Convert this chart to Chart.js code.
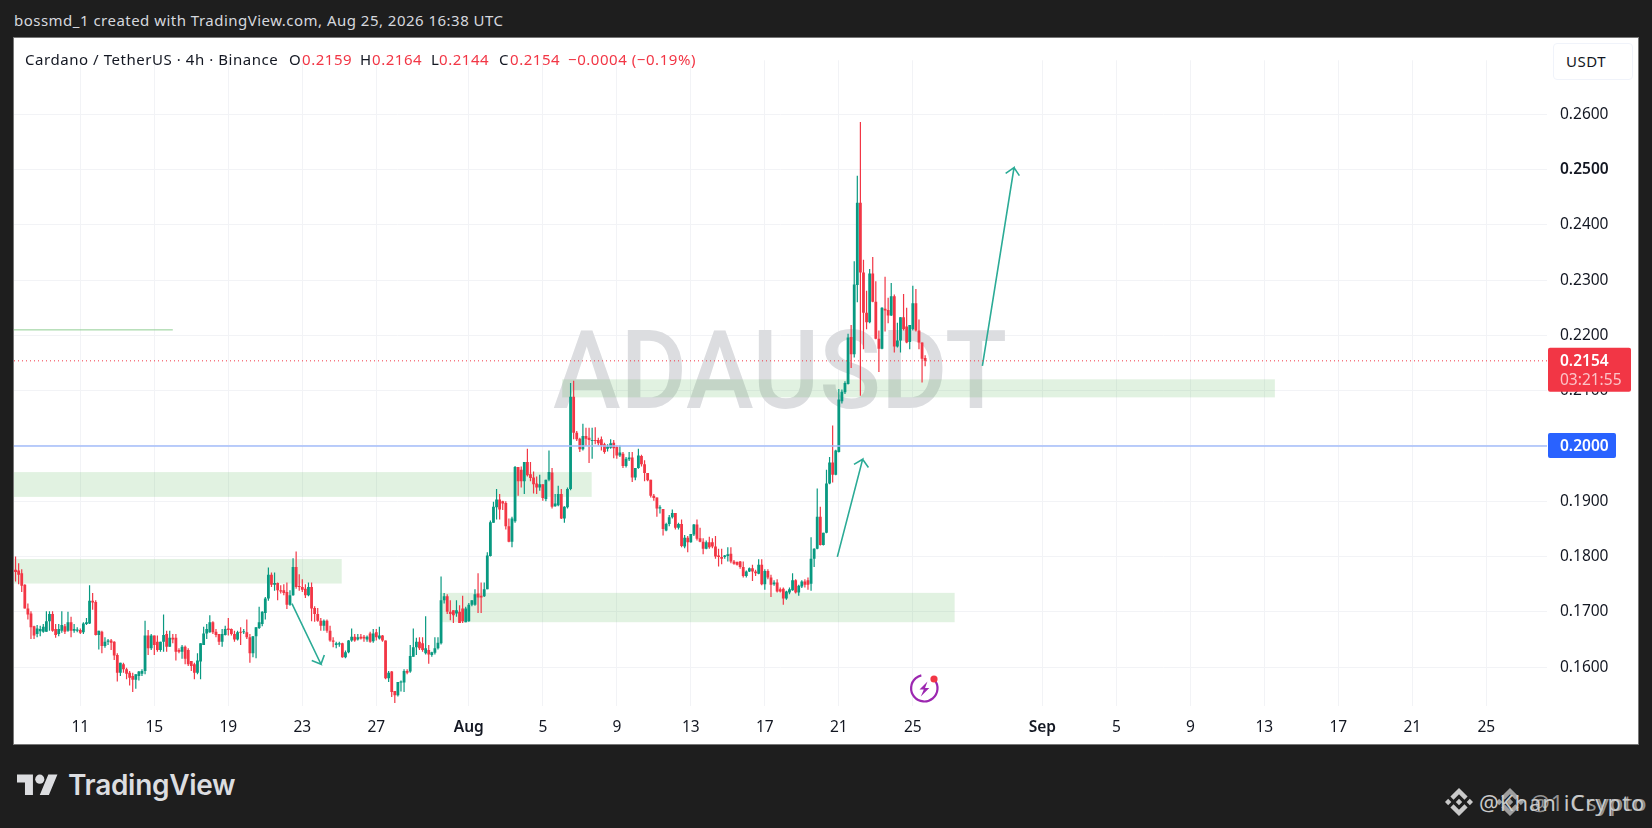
<!DOCTYPE html>
<html>
<head>
<meta charset="utf-8">
<title>ADAUSDT</title>
<script src="https://cdn.jsdelivr.net/npm/chart.js@4/dist/chart.umd.min.js"></script>
<style>
  html, body { margin: 0; height: 100%; background: #1e1e1e; overflow: hidden; }
  body { position: relative; width: 1652px; height: 828px; font-family: "Noto Sans", sans-serif; }
  .abs { position: absolute; white-space: nowrap; }
  #panel { position: absolute; left: 14px; top: 38px; width: 1624px; height: 706px; background: #fff; box-shadow: 0 0 0 1px #777; }
  #panel canvas { display: block; }
  #created { left: 14px; top: 9px; font-size: 15px; line-height: 22px; color: #d6d8de; letter-spacing: .48px; }
  .lg { top: 48px; font-size: 15px; line-height: 22px; color: #131722; letter-spacing: .55px; }
  .up { color: #f23645; }
  #unit { left: 1553px; top: 43px; width: 66px; height: 35px; line-height: 35px; padding-left: 12px; font-size: 15px; letter-spacing: .5px;
          color: #131722; background: #fff; border: 1px solid #f0f3fa; border-radius: 4px; }
  #brand { left: 68px; top: 765px; font-family: Inter, sans-serif; font-weight: 600; font-size: 28px; line-height: 40px; color: #dcdde0; letter-spacing: -0.3px; }
  .wm { top: 788px; font-size: 22px; line-height: 28px; }
</style>
</head>
<body>
<div id="created" class="abs">bossmd_1 created with TradingView.com, Aug 25, 2026 16:38 UTC</div>
<div id="panel"><canvas id="adaChart" width="1624" height="706"></canvas></div>

<div class="abs lg" style="left:25px">Cardano / TetherUS · 4h · Binance</div>
<div class="abs lg" style="left:289px">O</div><div class="abs lg up" style="left:302px">0.2159</div>
<div class="abs lg" style="left:360px">H</div><div class="abs lg up" style="left:372px">0.2164</div>
<div class="abs lg" style="left:431px">L</div><div class="abs lg up" style="left:439px">0.2144</div>
<div class="abs lg" style="left:499px">C</div><div class="abs lg up" style="left:510px">0.2154</div>
<div class="abs lg up" style="left:568px">−0.0004 (−0.19%)</div>
<div id="unit" class="abs">USDT</div>

<svg class="abs" style="left:908px;top:672px" width="34" height="34" viewBox="0 0 34 34">
  <circle cx="16.3" cy="16.3" r="13.2" fill="none" stroke="#9c27b0" stroke-width="2.2" stroke-dasharray="68 15" transform="rotate(-40 16.3 16.3)"/>
  <path d="M19.5 9.5 11.5 17.5h4.3l-3 7 8.5-8.5h-4.3z" fill="#9c27b0"/>
  <circle cx="26" cy="7" r="3.6" fill="#f23645"/>
</svg>

<svg class="abs" style="left:17px;top:770px" width="41" height="32" viewBox="0 0 36 28" fill="#dcdde0">
  <path d="M14 22H7V11H0V4h14v18zM28 22h-8l7.5-18h8L28 22z"/><circle cx="20" cy="8" r="4"/>
</svg>
<div id="brand" class="abs">TradingView</div>

<svg class="abs" style="left:1445px;top:788px" width="28" height="28" viewBox="0 0 126.61 126.61" fill="#c9c9c9">
  <path d="m38.73 53.2 24.59-24.58 24.6 24.6 14.3-14.31L63.32 0 24.43 38.9z"/><path d="m0 63.31 14.3-14.31 14.31 14.31-14.31 14.3z"/>
  <path d="m38.73 73.41 24.59 24.59 24.6-24.6 14.31 14.29-38.9 38.91-38.91-38.88z"/><path d="m98 63.31 14.3-14.31 14.31 14.31-14.31 14.3z"/>
  <path d="m77.83 63.3-14.51-14.52-10.73 10.73-1.24 1.23-2.54 2.54 14.51 14.5 14.51-14.47z"/>
</svg>
<svg class="abs" style="left:1496px;top:788px;opacity:.75" width="28" height="28" viewBox="0 0 126.61 126.61" fill="#c9c9c9">
  <path d="m38.73 53.2 24.59-24.58 24.6 24.6 14.3-14.31L63.32 0 24.43 38.9z"/><path d="m0 63.31 14.3-14.31 14.31 14.31-14.31 14.3z"/>
  <path d="m38.73 73.41 24.59 24.59 24.6-24.6 14.31 14.29-38.9 38.91-38.91-38.88z"/><path d="m98 63.31 14.3-14.31 14.31 14.31-14.31 14.3z"/>
  <path d="m77.83 63.3-14.51-14.52-10.73 10.73-1.24 1.23-2.54 2.54 14.51 14.5 14.51-14.47z"/>
</svg>
<div class="abs wm" style="left:1479px;color:#c9c9c9;letter-spacing:1px">@Khan iCrypto</div>
<div class="abs wm" style="left:1530px;color:rgba(201,201,201,.7);letter-spacing:1px">@1 Csypto</div>

<script>
// 4h candles, first one sits on Jul 7 12:00. days count from Jul 0 so Aug 1 = 32, Sep 1 = 63
const firstDay = 7.5
const candleStep = 4 / 24

const opens = [
  .1776,.1775,.1770,.1749,.1706,.1697,.1674,.1660,.1665,.1664,
  .1664,.1683,.1696,.1669,.1660,.1666,.1674,.1666,.1681,.1666,
  .1666,.1667,.1663,.1678,.1679,.1720,.1718,.1658,.1664,.1638,
  .1646,.1648,.1646,.1622,.1590,.1605,.1596,.1590,.1584,.1577,
  .1584,.1588,.1593,.1657,.1634,.1657,.1646,.1631,.1646,.1660,
  .1637,.1653,.1653,.1631,.1628,.1637,.1631,.1611,.1605,.1590,
  .1610,.1640,.1661,.1663,.1681,.1664,.1660,.1646,.1658,.1670,
  .1669,.1660,.1650,.1664,.1663,.1663,.1654,.1625,.1656,.1671,
  .1678,.1698,.1724,.1767,.1749,.1752,.1739,.1739,.1736,.1713,
  .1730,.1781,.1746,.1745,.1742,.1730,.1745,.1707,.1696,.1684,
  .1675,.1684,.1666,.1648,.1640,.1641,.1643,.1618,.1627,.1648,
  .1655,.1650,.1655,.1655,.1650,.1661,.1647,.1663,.1652,.1657,
  .1648,.1580,.1592,.1557,.1549,.1572,.1572,.1593,.1592,.1619,
  .1636,.1646,.1643,.1625,.1631,.1622,.1626,.1634,.1643,.1721,
  .1728,.1700,.1703,.1697,.1700,.1706,.1681,.1683,.1713,.1713,
  .1733,.1729,.1728,.1741,.1801,.1861,.1889,.1903,.1900,.1897,
  .1855,.1827,.1864,.1962,.1957,.1936,.1971,.1949,.1943,.1932,
  .1925,.1931,.1904,.1939,.1952,.1891,.1893,.1913,.1869,.1889,
  .1922,.2089,.2024,.2013,.1994,.2018,.2015,.2009,.2011,.2011,
  .2012,.2003,.1995,.1997,.2006,.1998,.1983,.1986,.1964,.1976,
  .1979,.1943,.1960,.1982,.1967,.1951,.1939,.1910,.1907,.1887,
  .1886,.1847,.1859,.1871,.1879,.1852,.1859,.1818,.1834,.1826,
  .1840,.1858,.1833,.1827,.1814,.1826,.1826,.1818,.1802,.1799,
  .1799,.1801,.1805,.1791,.1790,.1791,.1781,.1765,.1773,.1779,
  .1773,.1769,.1785,.1750,.1774,.1762,.1750,.1753,.1741,.1742,
  .1724,.1735,.1739,.1757,.1735,.1746,.1755,.1757,.1751,.1796,
  .1814,.1872,.1821,.1843,.1932,.1970,.1948,.1989,.2081,.2097,
  .2112,.2197,.2166,.2291,.2440,.2314,.2241,.2224,.2312,.2261,
  .2194,.2176,.2248,.2246,.2236,.2271,.2180,.2191,.2233,.2216,
  .2188,.2211,.2258,.2209,.2187,.2159
]
const closes = [
  .1772,.1767,.1747,.1706,.1695,.1672,.1657,.1670,.1669,.1673,
  .1683,.1696,.1666,.1658,.1669,.1676,.1664,.1681,.1666,.1669,
  .1668,.1662,.1679,.1681,.1720,.1717,.1658,.1666,.1638,.1646,
  .1648,.1644,.1621,.1590,.1608,.1596,.1588,.1581,.1577,.1587,
  .1592,.1593,.1657,.1634,.1657,.1640,.1631,.1646,.1658,.1637,
  .1653,.1650,.1628,.1628,.1637,.1615,.1605,.1602,.1590,.1612,
  .1643,.1661,.1669,.1681,.1663,.1658,.1646,.1660,.1669,.1667,
  .1660,.1650,.1663,.1662,.1665,.1654,.1625,.1656,.1672,.1681,
  .1700,.1724,.1767,.1749,.1752,.1739,.1737,.1734,.1713,.1730,
  .1781,.1745,.1745,.1740,.1730,.1745,.1706,.1696,.1684,.1675,
  .1684,.1666,.1648,.1646,.1643,.1643,.1618,.1627,.1648,.1655,
  .1648,.1654,.1652,.1652,.1655,.1646,.1661,.1654,.1657,.1648,
  .1580,.1590,.1555,.1549,.1573,.1574,.1593,.1590,.1620,.1636,
  .1646,.1634,.1631,.1634,.1623,.1627,.1634,.1644,.1721,.1728,
  .1700,.1696,.1694,.1703,.1680,.1683,.1706,.1713,.1721,.1732,
  .1726,.1726,.1741,.1802,.1862,.1890,.1903,.1885,.1896,.1855,
  .1827,.1869,.1962,.1936,.1936,.1971,.1947,.1942,.1931,.1925,
  .1931,.1906,.1939,.1953,.1890,.1896,.1913,.1869,.1890,.1922,
  .2089,.2024,.2012,.1994,.2018,.2013,.2011,.2011,.2009,.2005,
  .2001,.1989,.1999,.2005,.1996,.1983,.1988,.1964,.1977,.1979,
  .1943,.1960,.1983,.1967,.1951,.1938,.1910,.1906,.1887,.1889,
  .1850,.1859,.1871,.1879,.1852,.1859,.1819,.1834,.1826,.1841,
  .1858,.1832,.1827,.1814,.1826,.1817,.1818,.1800,.1799,.1796,
  .1802,.1804,.1791,.1787,.1785,.1781,.1765,.1773,.1779,.1773,
  .1770,.1785,.1750,.1774,.1762,.1749,.1753,.1737,.1737,.1724,
  .1737,.1741,.1757,.1735,.1747,.1755,.1749,.1749,.1796,.1814,
  .1872,.1821,.1843,.1932,.1970,.1948,.1992,.2084,.2098,.2114,
  .2196,.2166,.2292,.2440,.2314,.2241,.2224,.2312,.2261,.2194,
  .2176,.2250,.2245,.2236,.2271,.2180,.2191,.2233,.2211,.2187,
  .2219,.2258,.2209,.2187,.2158,.2154
]
const highs = [
  .1800,.1788,.1777,.1750,.1715,.1701,.1675,.1676,.1675,.1678,
  .1701,.1701,.1701,.1678,.1678,.1701,.1678,.1700,.1691,.1678,
  .1672,.1670,.1681,.1689,.1748,.1734,.1721,.1666,.1666,.1654,
  .1651,.1651,.1647,.1625,.1608,.1608,.1599,.1593,.1590,.1587,
  .1593,.1596,.1684,.1667,.1660,.1657,.1657,.1646,.1695,.1666,
  .1666,.1660,.1660,.1634,.1640,.1639,.1634,.1611,.1608,.1625,
  .1643,.1673,.1678,.1694,.1683,.1669,.1660,.1669,.1675,.1689,
  .1670,.1666,.1666,.1672,.1669,.1686,.1660,.1656,.1672,.1709,
  .1701,.1727,.1780,.1771,.1771,.1753,.1748,.1750,.1753,.1739,
  .1797,.1809,.1768,.1759,.1750,.1753,.1753,.1710,.1707,.1689,
  .1686,.1686,.1675,.1654,.1646,.1646,.1644,.1630,.1649,.1670,
  .1660,.1660,.1660,.1658,.1657,.1664,.1669,.1669,.1673,.1658,
  .1648,.1593,.1593,.1557,.1573,.1576,.1596,.1596,.1640,.1670,
  .1653,.1654,.1654,.1692,.1640,.1628,.1654,.1654,.1764,.1734,
  .1732,.1721,.1703,.1721,.1712,.1729,.1709,.1716,.1721,.1741,
  .1770,.1753,.1753,.1808,.1865,.1899,.1922,.1913,.1901,.1900,
  .1869,.1872,.1964,.1962,.1963,.1971,.1995,.1971,.1954,.1945,
  .1948,.1931,.1939,.1992,.1960,.1913,.1928,.1922,.1891,.1925,
  .2114,.2118,.2027,.2015,.2040,.2033,.2033,.2033,.2034,.2015,
  .2017,.2006,.2003,.2012,.2011,.2001,.2001,.1989,.1980,.1989,
  .1989,.1960,.1995,.1984,.1974,.1951,.1939,.1913,.1907,.1893,
  .1886,.1861,.1875,.1885,.1879,.1861,.1867,.1839,.1837,.1841,
  .1859,.1867,.1852,.1833,.1829,.1836,.1833,.1837,.1814,.1814,
  .1803,.1817,.1817,.1794,.1791,.1792,.1791,.1775,.1780,.1785,
  .1776,.1795,.1795,.1777,.1777,.1767,.1757,.1759,.1744,.1744,
  .1738,.1744,.1770,.1759,.1749,.1757,.1759,.1762,.1835,.1815,
  .1923,.1890,.1843,.1957,.1980,.2037,.1993,.2103,.2102,.2117,
  .2203,.2219,.2334,.2489,.2586,.2337,.2281,.2320,.2342,.2298,
  .2209,.2251,.2306,.2268,.2295,.2274,.2223,.2233,.2275,.2250,
  .2219,.2290,.2284,.2229,.2187,.2164
]
const lows = [
  .1755,.1750,.1736,.1706,.1686,.1651,.1651,.1654,.1656,.1662,
  .1664,.1666,.1664,.1653,.1656,.1662,.1660,.1664,.1654,.1662,
  .1663,.1660,.1660,.1676,.1678,.1704,.1657,.1632,.1625,.1635,
  .1640,.1631,.1613,.1574,.1584,.1590,.1578,.1567,.1555,.1561,
  .1576,.1584,.1587,.1622,.1631,.1622,.1628,.1628,.1628,.1628,
  .1637,.1643,.1612,.1625,.1615,.1605,.1602,.1593,.1578,.1587,
  .1578,.1640,.1651,.1662,.1660,.1654,.1640,.1637,.1657,.1657,
  .1657,.1646,.1648,.1640,.1660,.1651,.1608,.1618,.1616,.1669,
  .1674,.1686,.1720,.1745,.1738,.1721,.1733,.1730,.1705,.1711,
  .1729,.1742,.1738,.1736,.1725,.1728,.1683,.1682,.1682,.1666,
  .1666,.1662,.1646,.1636,.1634,.1637,.1617,.1616,.1625,.1646,
  .1646,.1648,.1650,.1646,.1646,.1644,.1644,.1648,.1650,.1646,
  .1578,.1573,.1546,.1535,.1547,.1556,.1555,.1587,.1590,.1619,
  .1622,.1631,.1628,.1623,.1606,.1619,.1623,.1632,.1641,.1715,
  .1696,.1685,.1680,.1691,.1680,.1680,.1681,.1682,.1710,.1711,
  .1698,.1698,.1727,.1741,.1800,.1861,.1867,.1867,.1884,.1849,
  .1826,.1817,.1861,.1910,.1925,.1913,.1945,.1936,.1914,.1913,
  .1919,.1901,.1900,.1936,.1887,.1890,.1891,.1868,.1861,.1887,
  .1920,.2012,.2009,.1989,.1992,.2000,.1969,.1977,.2003,.2001,
  .1992,.1986,.1990,.1995,.1978,.1977,.1980,.1960,.1961,.1973,
  .1935,.1938,.1959,.1963,.1936,.1936,.1907,.1901,.1872,.1878,
  .1838,.1846,.1855,.1869,.1849,.1849,.1817,.1815,.1808,.1825,
  .1837,.1829,.1826,.1804,.1813,.1814,.1815,.1796,.1782,.1786,
  .1796,.1791,.1788,.1785,.1784,.1778,.1762,.1762,.1772,.1756,
  .1765,.1768,.1748,.1740,.1759,.1727,.1747,.1735,.1735,.1713,
  .1722,.1732,.1738,.1733,.1729,.1743,.1744,.1740,.1738,.1781,
  .1813,.1820,.1820,.1842,.1931,.1934,.1947,.1988,.2077,.2094,
  .2111,.2141,.2160,.2260,.2091,.2175,.2211,.2222,.2260,.2193,
  .2134,.2175,.2207,.2222,.2235,.2169,.2178,.2169,.2209,.2186,
  .2175,.2209,.2207,.2175,.2115,.2144
]

const xTickDays = [11, 15, 19, 23, 27, 32, 36, 40, 44, 48, 52, 56, 63, 67, 71, 75, 79, 83, 87]
const xTickLabels = ['11', '15', '19', '23', '27', 'Aug', '5', '9', '13', '17', '21', '25', 'Sep', '5', '9', '13', '17', '21', '25']
const yTicks = [0.16, 0.17, 0.18, 0.19, 0.20, 0.21, 0.22, 0.23, 0.24, 0.25, 0.26]

const xMin = 7.416
const xMax = 90.28
const yMin = 0.15297
const yMax = 0.26976

const lastPrice = 0.2154
const lastCountdown = '03:21:55'
const alertPrice = 0.2000
const shortLinePrice = 0.2210
const shortLineEndDay = 16

// green demand/supply boxes: from day, to day, top price, bottom price
const zoneFrom = [xMin, xMin, 30.44, 37.05]
const zoneTo = [25.13, 38.64, 58.26, 75.57]
const zoneTop = [0.17955, 0.19528, 0.17343, 0.21206]
const zoneBottom = [0.17512, 0.19079, 0.16813, 0.20879]

// drawn arrows, shaft then the two strokes of the head
const arrowDown = [[22.44, 0.1715], [24.01, 0.16054], [23.51, 0.16119], [24.01, 0.16054], [24.19, 0.16219]]
const arrowUp = [[51.92, 0.17995], [53.29, 0.1976], [52.82, 0.19668], [53.29, 0.1976], [53.60, 0.19610]]
const arrowTarget = [[59.76, 0.21451], [61.47, 0.25035], [61.02, 0.2493], [61.47, 0.25035], [61.76, 0.2489]]

const GREEN = '#089981'
const RED = '#f23645'
const GRID = '#f2f3f6'
const TEXT = '#131722'
const FONT = '"Noto Sans", sans-serif'

const candleDays = opens.map((_, i) => firstDay + i * candleStep)
const candleColors = opens.map((o, i) => closes[i] >= o ? GREEN : RED)

const arrowDataset = (points) => ({
  type: 'line',
  data: points.map(p => ({ x: p[0], y: p[1] })),
  borderColor: '#2bab96',
  borderWidth: 1.6,
  pointRadius: 0,
  tension: 0,
  order: 0,
})

const levelDataset = (x0, x1, price, color, width, dash) => ({
  type: 'line',
  data: [{ x: x0, y: price }, { x: x1, y: price }],
  borderColor: color,
  borderWidth: width,
  borderDash: dash,
  pointRadius: 0,
  order: 0,
})

// watermark and zones go under the candles, the price tags go on top of the axis
const overlays = {
  id: 'overlays',
  beforeDatasetsDraw(chart) {
    const { ctx, chartArea, scales: { x, y } } = chart
    ctx.save()
    ctx.beginPath()
    ctx.rect(chartArea.left, chartArea.top, chartArea.width, chartArea.height)
    ctx.clip()

    ctx.font = '500 110px Roboto, sans-serif'
    ctx.fillStyle = '#dcdde0'
    ctx.textAlign = 'center'
    ctx.textBaseline = 'alphabetic'
    const w = ctx.measureText('ADAUSDT').width
    ctx.translate(766, 370)
    ctx.scale(454 / w, 1)
    ctx.fillText('ADAUSDT', 0, 0)
    ctx.setTransform(1, 0, 0, 1, 0, 0)

    zoneFrom.forEach((from, i) => {
      const left = x.getPixelForValue(from)
      const right = x.getPixelForValue(zoneTo[i])
      const top = y.getPixelForValue(zoneTop[i])
      const bottom = y.getPixelForValue(zoneBottom[i])
      ctx.fillStyle = 'rgba(76, 175, 80, 0.17)'
      ctx.fillRect(left, top, right - left, bottom - top)
    })
    ctx.restore()
  },
  afterDraw(chart) {
    const { ctx, chartArea, scales: { y } } = chart
    const left = chartArea.right + 1
    ctx.save()
    ctx.textBaseline = 'middle'
    ctx.textAlign = 'left'

    const redY = y.getPixelForValue(lastPrice)
    ctx.fillStyle = RED
    ctx.beginPath()
    ctx.roundRect(left, redY - 13, 83, 44, 2)
    ctx.fill()
    ctx.font = '600 15.5px ' + FONT
    ctx.fillStyle = '#fff'
    ctx.fillText(lastPrice.toFixed(4), left + 12, redY + 1)
    ctx.font = '15.5px ' + FONT
    ctx.fillStyle = 'rgba(255, 255, 255, 0.7)'
    ctx.fillText(lastCountdown, left + 12, redY + 20)

    const blueY = y.getPixelForValue(alertPrice)
    ctx.fillStyle = '#2962ff'
    ctx.beginPath()
    ctx.roundRect(left, blueY - 13, 68, 25, 2)
    ctx.fill()
    ctx.font = '600 15.5px ' + FONT
    ctx.fillStyle = '#fff'
    ctx.fillText(alertPrice.toFixed(4), left + 12, blueY + 1)
    ctx.restore()
  },
}

new Chart(document.getElementById('adaChart').getContext('2d'), {
  type: 'bar',
  data: {
    datasets: [
      levelDataset(xMin, xMax, alertPrice, '#a3bcfa', 1.6, []),
      levelDataset(xMin, xMax, lastPrice, RED, 1, [1, 3]),
      levelDataset(xMin, shortLineEndDay, shortLinePrice, '#8fce93', 1, []),
      arrowDataset(arrowDown),
      arrowDataset(arrowUp),
      arrowDataset(arrowTarget),
      {
        data: candleDays.map((d, i) => ({ x: d, y: [opens[i], closes[i]] })),
        backgroundColor: candleColors,
        barThickness: 2.8,
        minBarLength: 1,
        grouped: false,
        inflateAmount: 0,
        order: 1,
      },
      {
        data: candleDays.map((d, i) => ({ x: d, y: [lows[i], highs[i]] })),
        backgroundColor: candleColors,
        barThickness: 1.2,
        grouped: false,
        inflateAmount: 0,
        order: 2,
      },
    ],
  },
  options: {
    responsive: false,
    animation: false,
    devicePixelRatio: 1,
    layout: { padding: 0, autoPadding: false },
    plugins: { legend: { display: false }, tooltip: { enabled: false } },
    scales: {
      x: {
        type: 'linear',
        offset: false,
        min: xMin,
        max: xMax,
        afterBuildTicks: (scale) => { scale.ticks = xTickDays.map(v => ({ value: v })) },
        afterFit: (scale) => { scale.height = 38 },
        grid: { color: GRID, drawTicks: false, offset: false },
        border: { display: false },
        ticks: {
          autoSkip: false,
          maxRotation: 0,
          padding: 12,
          color: TEXT,
          font: (c) => ({ family: FONT, size: 15.5, weight: c.tick && isNaN(c.tick.label) ? '600' : '400' }),
          callback: (v) => xTickLabels[xTickDays.indexOf(v)],
        },
      },
      y: {
        position: 'right',
        min: yMin,
        max: yMax,
        afterBuildTicks: (scale) => { scale.ticks = yTicks.map(v => ({ value: v })) },
        afterFit: (scale) => { scale.width = 91 },
        grid: { color: GRID, drawTicks: false },
        border: { display: false },
        ticks: {
          autoSkip: false,
          padding: 13,
          color: TEXT,
          font: (c) => ({ family: FONT, size: 15.5, weight: c.tick && Math.abs(c.tick.value - 0.25) < 1e-6 ? '600' : '400' }),
          callback: (v) => v.toFixed(4),
        },
      },
    },
  },
  plugins: [overlays],
})
</script>
</body>
</html>
